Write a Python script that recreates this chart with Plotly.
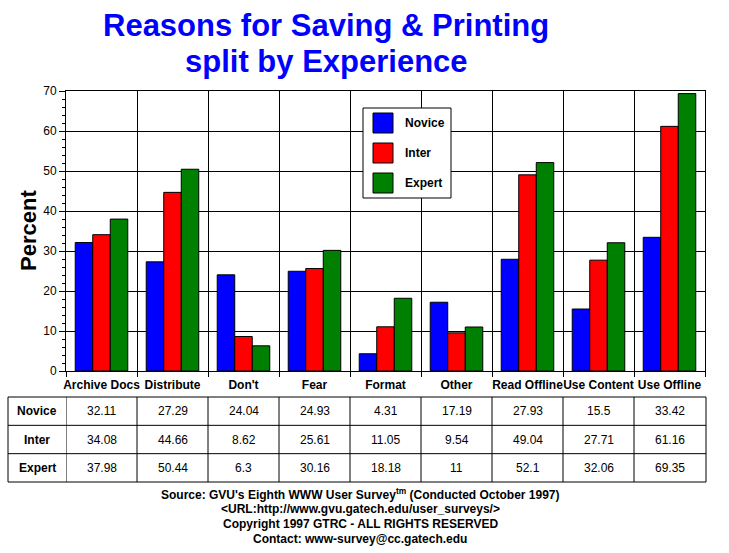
import plotly.graph_objects as go

categories = ["Archive Docs", "Distribute", "Don't", "Fear", "Format", "Other",
              "Read Offline", "Use Content", "Use Offline"]
novice = [32.11, 27.29, 24.04, 24.93, 4.31, 17.19, 27.93, 15.5, 33.42]
inter = [34.08, 44.66, 8.62, 25.61, 11.05, 9.54, 49.04, 27.71, 61.16]
expert = [37.98, 50.44, 6.3, 30.16, 18.18, 11, 52.1, 32.06, 69.35]
series_names = ["Novice", "Inter", "Expert"]
series_values = [novice, inter, expert]
colors = ["#0000FF", "#FF0000", "#008000"]
y_ticks = [0, 10, 20, 30, 40, 50, 60, 70]

FONT = "Liberation Sans, Arial, sans-serif"

# plot area in pixels
L, R, T, B = 66, 705, 91, 371
W, H = R - L, B - T


def px(x):
    return (x - L) / W


def py(y):
    return (B - y) / H


fig = go.Figure()
for name, vals, col in zip(series_names, series_values, colors):
    fig.add_trace(go.Bar(x=categories, y=vals, name=name,
                         marker=dict(color=col, line=dict(color="black", width=1)),
                         showlegend=False))

shapes = []
annotations = []

# Title
annotations.append(dict(text="<b>Reasons for Saving & Printing</b>", xref="paper", yref="paper",
                        x=px(326), y=py(26), showarrow=False, xanchor="center", yanchor="middle",
                        font=dict(family=FONT, size=31, color="#0000FF")))
annotations.append(dict(text="<b>split by Experience</b>", xref="paper", yref="paper",
                        x=px(326), y=py(62), showarrow=False, xanchor="center", yanchor="middle",
                        font=dict(family=FONT, size=31, color="#0000FF")))

# Y axis title
annotations.append(dict(text="<b>Percent</b>", xref="paper", yref="paper", x=px(28), y=py(231),
                        textangle=-90, showarrow=False, xanchor="center", yanchor="middle",
                        font=dict(family=FONT, size=22, color="black")))

# Legend (custom)
shapes.append(dict(type="rect", xref="paper", yref="paper", x0=px(363), x1=px(451),
                   y0=py(198), y1=py(108), line=dict(color="black", width=1),
                   fillcolor="white", layer="above"))
for i, (name, col) in enumerate(zip(series_names, colors)):
    yc = 123 + 30 * i
    shapes.append(dict(type="rect", xref="paper", yref="paper", x0=px(373), x1=px(393),
                       y0=py(yc + 10), y1=py(yc - 10), line=dict(color="black", width=1),
                       fillcolor=col, layer="above"))
    annotations.append(dict(text=f"<b>{name}</b>", xref="paper", yref="paper", x=px(403), y=py(yc),
                            showarrow=False, xanchor="left", yanchor="middle",
                            font=dict(family=FONT, size=12, color="black")))

# Data table
tl, tr, tt, tb = 8, 706, 397, 482
row_h = (tb - tt) / 3
shapes.append(dict(type="rect", xref="paper", yref="paper", x0=px(tl), x1=px(tr),
                   y0=py(tb), y1=py(tt), line=dict(color="black", width=1)))
for r in (1, 2):
    yl = tt + row_h * r
    shapes.append(dict(type="line", xref="paper", yref="paper", x0=px(tl), x1=px(tr),
                       y0=py(yl), y1=py(yl), line=dict(color="black", width=1)))
for k in range(len(categories)):
    shapes.append(dict(type="line", xref="x", yref="paper", x0=k - 0.5, x1=k - 0.5,
                       y0=py(tb), y1=py(tt), line=dict(color="black", width=1)))
for r, (name, vals) in enumerate(zip(series_names, series_values)):
    yc = tt + row_h * (r + 0.5)
    annotations.append(dict(text=f"<b>{name}</b>", xref="paper", yref="paper", x=px(37), y=py(yc),
                            showarrow=False, xanchor="center", yanchor="middle",
                            font=dict(family=FONT, size=12, color="black")))
    for cat, v in zip(categories, vals):
        annotations.append(dict(text=f"{v:g}", xref="x", yref="paper", x=cat, y=py(yc),
                                showarrow=False, xanchor="center", yanchor="middle",
                                font=dict(family=FONT, size=12, color="black")))

# Footer
footer = ["Source: GVU's Eighth WWW User Survey<sup>tm</sup> (Conducted October 1997)",
          "&lt;URL:http://www.gvu.gatech.edu/user_surveys/&gt;",
          "Copyright 1997 GTRC - ALL RIGHTS RESERVED",
          "Contact: www-survey@cc.gatech.edu"]
for i, line in enumerate(footer):
    annotations.append(dict(text=f"<b>{line}</b>", xref="paper", yref="paper", x=px(360),
                            y=py(494 + 15 * i),
                            showarrow=False, xanchor="center", yanchor="middle",
                            font=dict(family=FONT, size=12, color="black")))

fig.update_layout(
    width=729, height=553,
    margin=dict(l=L, r=729 - R, t=T, b=553 - B, pad=0),
    paper_bgcolor="white", plot_bgcolor="white",
    barmode="group", bargap=0.26, bargroupgap=0,
    font=dict(family=FONT, size=12, color="black"),
    shapes=shapes, annotations=annotations,
    showlegend=False,
)
fig.update_xaxes(type="category", tickson="boundaries", showgrid=True, gridcolor="black",
                 gridwidth=1, showline=True, linecolor="black", linewidth=1, mirror=True,
                 ticks="outside", ticklen=5, tickcolor="black", tickangle=0,
                 ticklabelstandoff=3,
                 tickprefix="<b>", ticksuffix="</b>",
                 tickfont=dict(family=FONT, size=12, color="black"), range=[-0.5, 8.5])
fig.update_yaxes(range=[0, 70], tickvals=y_ticks, showgrid=True, gridcolor="black", gridwidth=1,
                 showline=True, linecolor="black", linewidth=1, mirror=True, zeroline=False,
                 ticks="outside", ticklen=6, tickcolor="black",
                 tickfont=dict(family=FONT, size=12, color="black"),
                 tickprefix="<b>", ticksuffix="</b>",
                 minor=dict(dtick=2, ticks="outside", ticklen=3, tickcolor="black", showgrid=False))

fig.write_html("out.html")
